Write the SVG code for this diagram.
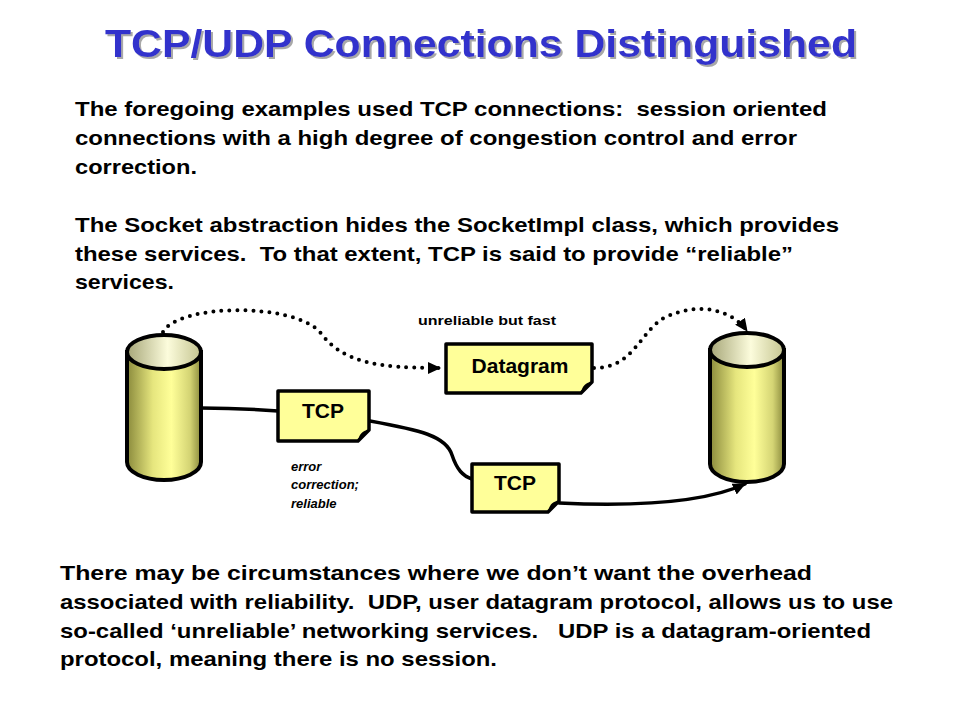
<svg xmlns="http://www.w3.org/2000/svg" width="960" height="720" viewBox="0 0 960 720">
<style>
  text { font-family: "Liberation Sans", Arial, sans-serif; font-weight: bold; white-space: pre; }
  .title { font-size: 38px; fill: #3333cc; filter: url(#tshadow); }
  .para { font-size: 21px; fill: #000; }
  .small { font-size: 13px; fill: #000; }
  .ital { font-size: 13px; font-style: italic; fill: #000; }
  .boxlabel { font-size: 21px; fill: #000; text-anchor: middle; }
  .box { fill: #ffff99; stroke: #000; stroke-width: 3.5; stroke-linejoin: round; }
  .fold { fill: #000; }
  .cylbody { fill: url(#cylGrad); stroke: #000; stroke-width: 4; }
  .cyltop { fill: url(#topGrad); stroke: #000; stroke-width: 4; }
  .solid { fill: none; stroke: #000; stroke-width: 3.5; stroke-linecap: round; }
  .dotted { fill: none; stroke: #000; stroke-width: 4; stroke-linecap: round; stroke-dasharray: 0 8; }
</style>
<defs>
  <filter id="tshadow" x="-5%" y="-20%" width="110%" height="150%">
    <feOffset in="SourceAlpha" dx="2" dy="2" result="off"/>
    <feFlood flood-color="#a8a8a8"/>
    <feComposite in2="off" operator="in" result="sh"/>
    <feMerge><feMergeNode in="sh"/><feMergeNode in="SourceGraphic"/></feMerge>
  </filter>
  <linearGradient id="cylGrad" x1="0" y1="0" x2="1" y2="0">
    <stop offset="0" stop-color="#8a8a3c"/>
    <stop offset="0.35" stop-color="#e6e67e"/>
    <stop offset="0.6" stop-color="#ffff99"/>
    <stop offset="0.85" stop-color="#d4d474"/>
    <stop offset="1" stop-color="#8a8a3c"/>
  </linearGradient>
  <linearGradient id="topGrad" x1="0" y1="0" x2="1" y2="0">
    <stop offset="0" stop-color="#a6a678"/>
    <stop offset="0.55" stop-color="#fcfcdc"/>
    <stop offset="1" stop-color="#c4c490"/>
  </linearGradient>
  <marker id="arrow" markerUnits="userSpaceOnUse" markerWidth="14" markerHeight="12" refX="12" refY="6" orient="auto">
    <path d="M0,0 L13,6 L0,12 Z" fill="#000"/>
  </marker>
</defs>

<g id="title">
  <text class="title" x="105" y="57" textLength="752" lengthAdjust="spacingAndGlyphs">TCP/UDP Connections Distinguished</text>
</g>

<g id="intro-text">
  <text class="para" x="75" y="116" textLength="752" lengthAdjust="spacingAndGlyphs">The foregoing examples used TCP connections:  session oriented</text>
  <text class="para" x="75" y="145" textLength="722" lengthAdjust="spacingAndGlyphs">connections with a high degree of congestion control and error</text>
  <text class="para" x="75" y="174" textLength="122" lengthAdjust="spacingAndGlyphs">correction.</text>
  <text class="para" x="75" y="232" textLength="764" lengthAdjust="spacingAndGlyphs">The Socket abstraction hides the SocketImpl class, which provides</text>
  <text class="para" x="75" y="261" textLength="718" lengthAdjust="spacingAndGlyphs">these services.  To that extent, TCP is said to provide “reliable”</text>
  <text class="para" x="75" y="289" textLength="99" lengthAdjust="spacingAndGlyphs">services.</text>
</g>

<g id="connectors">
  <path class="dotted" d="M163,332 C178,304 292,302 320,332 C342,362 375,368 440,368" marker-end="url(#arrow)"/>
  <path class="dotted" d="M594,368 C636,368 640,328 668,316 C700,302 732,310 747,331" marker-end="url(#arrow)"/>
  <path class="solid" d="M201,408 C232,408 252,409 278,411"/>
  <path class="solid" d="M370,421 C420,430 446,436 452,455 C457,470 463,476 472,479"/>
  <path class="solid" d="M559,503 C625,506 700,505 745,484" marker-end="url(#arrow)"/>
</g>

<g id="cylinder-left">
  <path class="cylbody" d="M127,352 V462 A37,18 0 0 0 201,462 V352 Z"/>
  <ellipse class="cyltop" cx="164" cy="352" rx="37" ry="17"/>
</g>

<g id="cylinder-right">
  <path class="cylbody" d="M710,350 V464 A37,18 0 0 0 784,464 V350 Z"/>
  <ellipse class="cyltop" cx="747" cy="350" rx="37" ry="17"/>
</g>

<g id="label-unreliable">
  <text class="small" x="418" y="325" textLength="138" lengthAdjust="spacingAndGlyphs">unreliable but fast</text>
</g>

<g id="box-datagram">
  <path class="box" d="M446,344 H592 V382 L581,393 H446 Z"/>
  <path class="fold" d="M581,393 L592,382 C586,382 582,386 581,393 Z"/>
  <text class="boxlabel" x="520" y="373">Datagram</text>
</g>

<g id="box-tcp1">
  <path class="box" d="M278,391 H369 V430 L358,441 H278 Z"/>
  <path class="fold" d="M358,441 L369,430 C363,430 359,434 358,441 Z"/>
  <text class="boxlabel" x="323" y="418">TCP</text>
</g>

<g id="box-tcp2">
  <path class="box" d="M472,464 H559 V501 L548,512 H472 Z"/>
  <path class="fold" d="M548,512 L559,501 C553,501 549,505 548,512 Z"/>
  <text class="boxlabel" x="515" y="490">TCP</text>
</g>

<g id="label-error">
  <text class="ital" x="291" y="471">error</text>
  <text class="ital" x="291" y="489">correction;</text>
  <text class="ital" x="291" y="508">reliable</text>
</g>

<g id="bottom-text">
  <text class="para" x="60" y="580" textLength="752" lengthAdjust="spacingAndGlyphs">There may be circumstances where we don’t want the overhead</text>
  <text class="para" x="60" y="609" textLength="833" lengthAdjust="spacingAndGlyphs">associated with reliability.  UDP, user datagram protocol, allows us to use</text>
  <text class="para" x="60" y="638" textLength="811" lengthAdjust="spacingAndGlyphs">so-called ‘unreliable’ networking services.   UDP is a datagram-oriented</text>
  <text class="para" x="60" y="666" textLength="437" lengthAdjust="spacingAndGlyphs">protocol, meaning there is no session.</text>
</g>
</svg>
